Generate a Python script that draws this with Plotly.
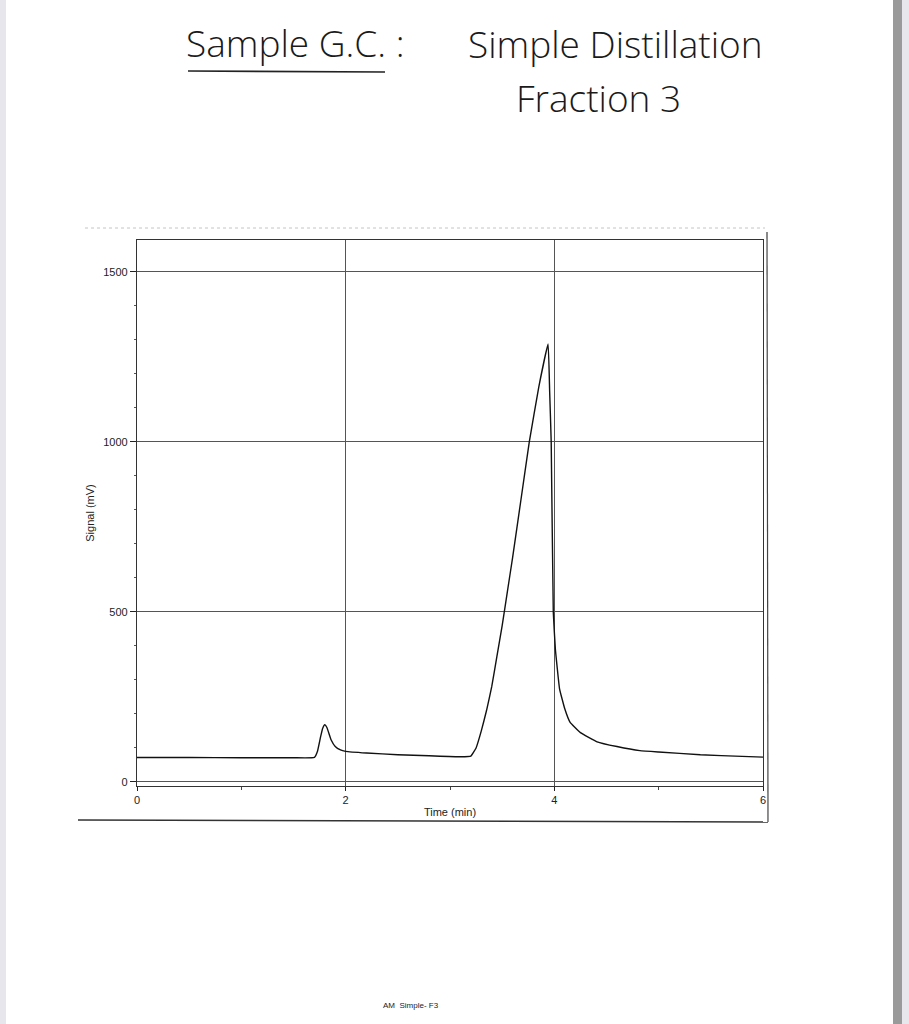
import plotly.graph_objects as go

# ---- data ----
time_min = [0, 0.5, 1.0, 1.5, 1.70, 1.73, 1.76, 1.78, 1.80, 1.82, 1.86, 1.90, 1.95, 2.0,
            2.2, 2.5, 2.8, 3.1, 3.2, 3.25, 3.3, 3.35, 3.4, 3.45, 3.5, 3.55, 3.6, 3.68, 3.76,
            3.85, 3.94, 3.955, 3.97, 3.99, 4.01, 4.05, 4.10, 4.15, 4.25, 4.41, 4.60,
            4.82, 5.0, 5.4, 5.8, 6.0]
signal_mv = [72, 72, 71, 71, 72, 90, 133, 158, 168, 160, 124, 104, 94, 90,
             85, 80, 77, 74, 76, 100, 150, 210, 280, 370, 460, 560, 660, 830, 1000,
             1160, 1288, 1150, 1000, 500, 390, 274, 215, 176, 145, 118, 104,
             92, 88, 80, 75, 73]

x_ticks = [0, 2, 4, 6]
y_ticks = [0, 500, 1000, 1500]

W, H = 909, 1024
L, R, T, B = 137, 146, 240, 238
pw, ph = W - L - R, H - T - B


def px(x):
    return (x - L) / pw


def py(y):
    return (H - B - y) / ph


fig = go.Figure()
fig.add_trace(go.Scatter(x=time_min, y=signal_mv, mode="lines",
                         line=dict(color="#111111", width=1.4, shape="spline", smoothing=0.3),
                         showlegend=False, hoverinfo="skip"))

axis_font = dict(family="Liberation Sans, Arial, sans-serif", size=11, color="#222222")
fig.update_xaxes(range=[0, 6], tickvals=x_ticks, ticktext=[str(v) for v in x_ticks],
                 showgrid=True, gridcolor="#555", gridwidth=1,
                 showline=True, linecolor="#333", linewidth=1.3, mirror=True,
                 ticks="outside", ticklen=4, tickcolor="#222", tickfont=axis_font,
                 minor=dict(dtick=1, ticks="outside", ticklen=3, tickcolor="#444", showgrid=False),
                 title=dict(text="Time (min)", font=axis_font, standoff=2),
                 zeroline=False)
fig.update_yaxes(range=[-12, 1594], tickvals=y_ticks, ticktext=[str(v) for v in y_ticks],
                 showgrid=True, gridcolor="#555", gridwidth=1,
                 showline=True, linecolor="#333", linewidth=1.3, mirror=True,
                 ticks="outside", ticklen=6, tickcolor="#222", tickfont=axis_font,
                 minor=dict(dtick=100, ticks="outside", ticklen=2, tickcolor="#555", showgrid=False),
                 title=dict(text="Signal (mV)", font=axis_font, standoff=6),
                 zeroline=False)

shapes = [
    # left gray page margin
    dict(type="rect", xref="paper", yref="paper", x0=px(0), x1=px(6), y0=py(H), y1=py(0),
         fillcolor="#e6e6ec", line=dict(width=0), layer="below"),
    # right scanner edge
    dict(type="rect", xref="paper", yref="paper", x0=px(893), x1=px(902), y0=py(H), y1=py(0),
         fillcolor="#9a9a9a", line=dict(width=0), layer="below"),
    dict(type="rect", xref="paper", yref="paper", x0=px(902), x1=px(W), y0=py(H), y1=py(0),
         fillcolor="#e8e8ec", line=dict(width=0), layer="below"),
    # outer frame of the printout
    dict(type="line", xref="paper", yref="paper", x0=px(78), x1=px(768), y0=py(820), y1=py(822),
         line=dict(color="#333", width=1.5)),
    dict(type="line", xref="paper", yref="paper", x0=px(767), x1=px(768), y0=py(232), y1=py(822),
         line=dict(color="#444", width=1.2)),
    dict(type="line", xref="paper", yref="paper", x0=px(85), x1=px(765), y0=py(228), y1=py(228),
         line=dict(color="#c4c4c4", width=1, dash="dot")),
    # underline of the handwritten title
    dict(type="line", xref="paper", yref="paper", x0=px(188), x1=px(385), y0=py(71), y1=py(72),
         line=dict(color="#222", width=1.6)),
]

hand = dict(family="Open Sans, sans-serif", size=37, color="#1a1a1a", weight=300)
annotations = [
    dict(text="Sample G.C. :", x=px(184), y=py(43), xref="paper", yref="paper",
         xanchor="left", yanchor="middle", showarrow=False, font=hand),
    dict(text="Simple Distillation", x=px(466), y=py(44), xref="paper", yref="paper",
         xanchor="left", yanchor="middle", showarrow=False, font=hand),
    dict(text="Fraction 3", x=px(514), y=py(97), xref="paper", yref="paper",
         xanchor="left", yanchor="middle", showarrow=False, font=hand),
    dict(text="AM  Simple- F3", x=px(411), y=py(1005), xref="paper", yref="paper",
         xanchor="center", yanchor="middle", showarrow=False,
         font=dict(family="Liberation Sans, Arial, sans-serif", size=8, color="#222")),
]

fig.update_layout(width=W, height=H, margin=dict(l=L, r=R, t=T, b=B, autoexpand=False),
                  paper_bgcolor="white", plot_bgcolor="white",
                  shapes=shapes, annotations=annotations)

fig.write_html("out.html", config={"displayModeBar": False},
               post_script="document.body.style.margin='0px';")
